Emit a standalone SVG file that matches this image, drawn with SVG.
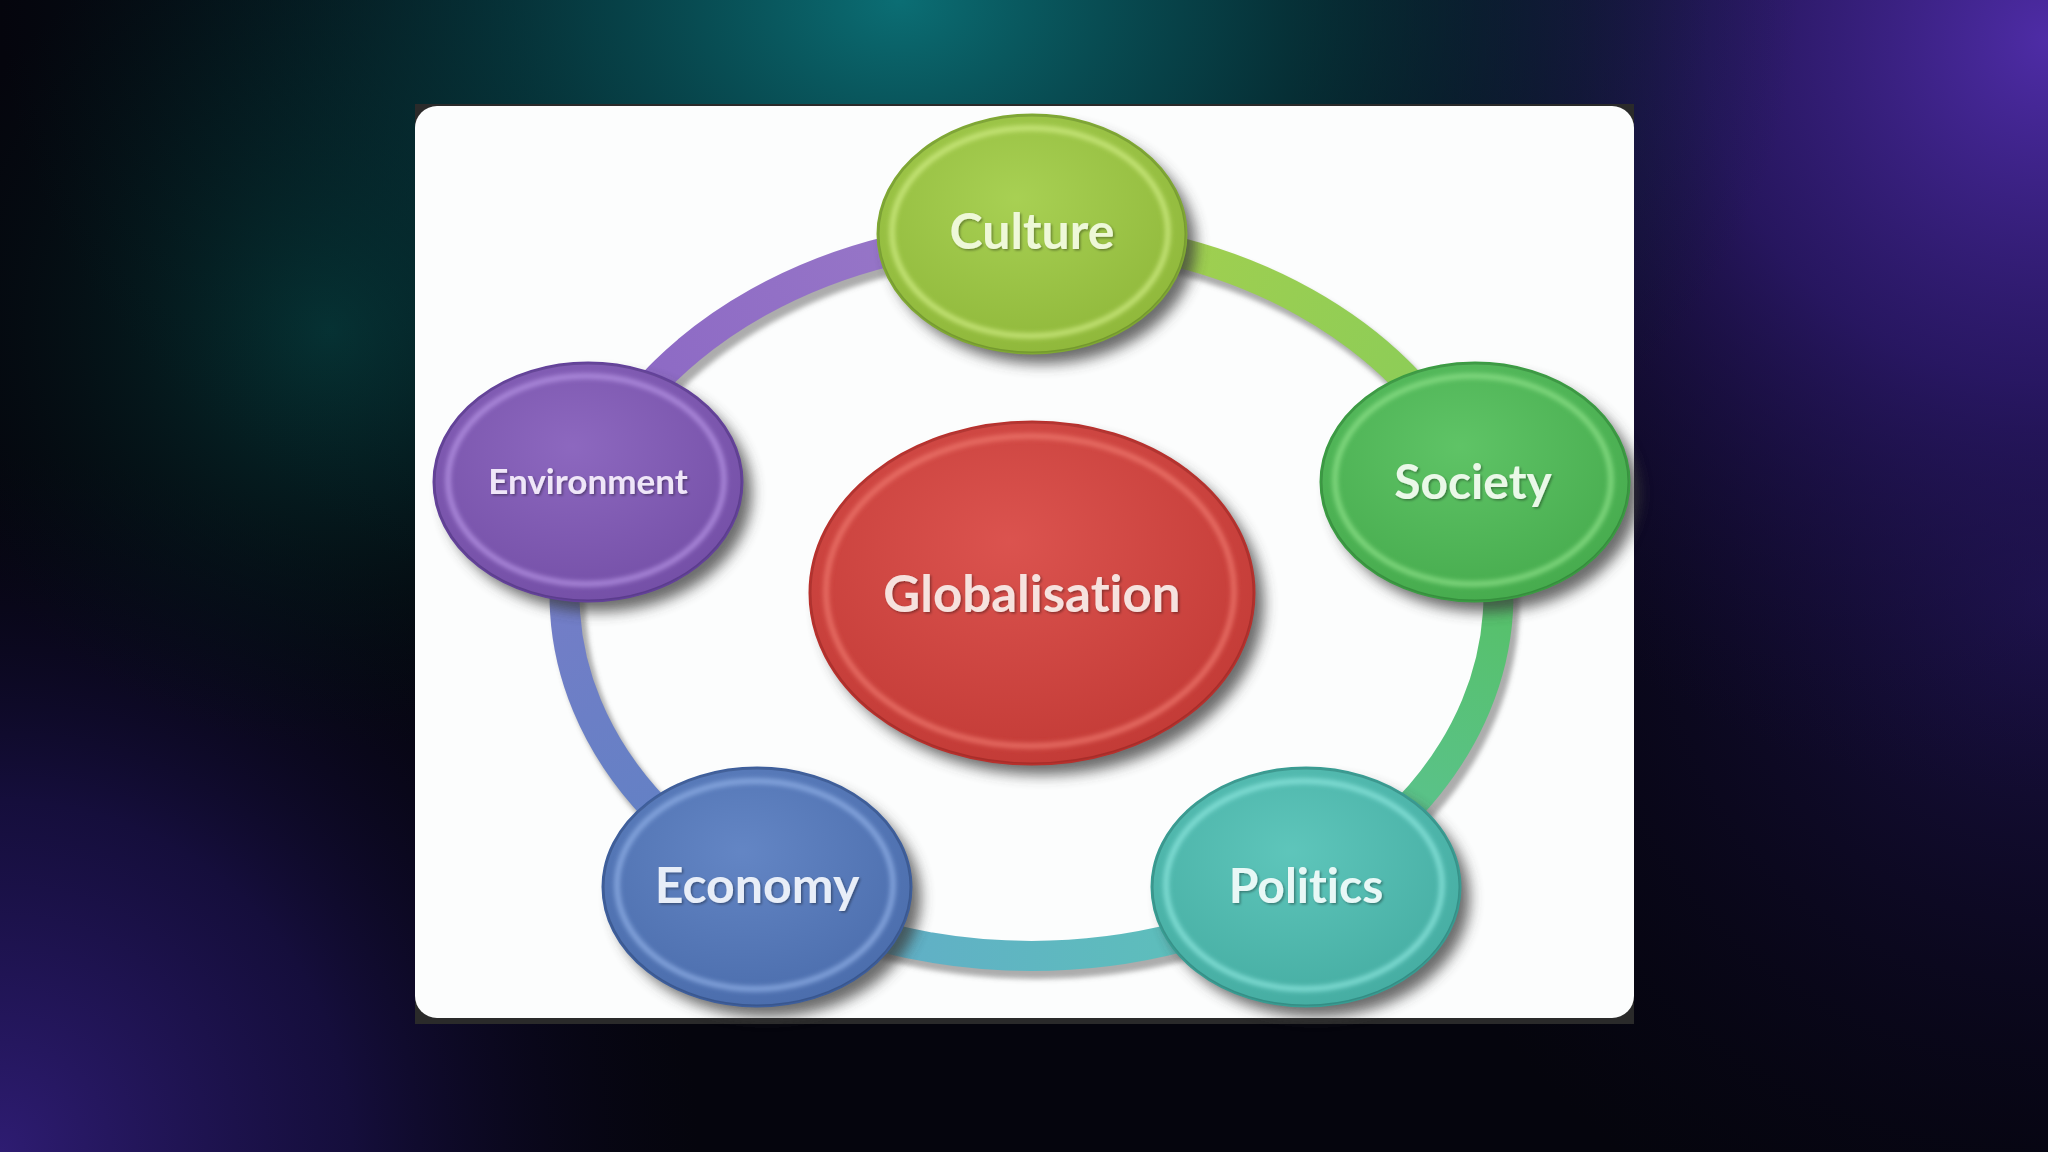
<svg xmlns="http://www.w3.org/2000/svg" width="2048" height="1152" viewBox="0 0 2048 1152">
<defs>
  <radialGradient id="bgTeal" cx="900" cy="0" r="900" gradientUnits="userSpaceOnUse" gradientTransform="translate(900 0) scale(1 0.75) translate(-900 0)">
    <stop offset="0" stop-color="#0b6e74"/>
    <stop offset="0.35" stop-color="#074a50" stop-opacity="0.8"/>
    <stop offset="1" stop-color="#042024" stop-opacity="0"/>
  </radialGradient>
  <radialGradient id="bgTealL" cx="330" cy="330" r="420" gradientUnits="userSpaceOnUse">
    <stop offset="0" stop-color="#063838" stop-opacity="0.9"/>
    <stop offset="1" stop-color="#031818" stop-opacity="0"/>
  </radialGradient>
  <radialGradient id="bgPurpTR" cx="2048" cy="40" r="760" gradientUnits="userSpaceOnUse">
    <stop offset="0" stop-color="#4e2ca6"/>
    <stop offset="0.45" stop-color="#2e1a70" stop-opacity="0.8"/>
    <stop offset="1" stop-color="#140c38" stop-opacity="0"/>
  </radialGradient>
  <radialGradient id="bgPurpBL" cx="0" cy="1152" r="700" gradientUnits="userSpaceOnUse">
    <stop offset="0" stop-color="#2e1c72"/>
    <stop offset="0.5" stop-color="#1c1250" stop-opacity="0.7"/>
    <stop offset="1" stop-color="#0a0620" stop-opacity="0"/>
  </radialGradient>
  <radialGradient id="bgRight" cx="2048" cy="600" r="700" gradientUnits="userSpaceOnUse">
    <stop offset="0" stop-color="#1c1248"/>
    <stop offset="1" stop-color="#0a0620" stop-opacity="0"/>
  </radialGradient>
  <filter id="blurSh" x="-20%" y="-20%" width="140%" height="140%">
    <feGaussianBlur stdDeviation="7"/>
  </filter>
  <filter id="blurSoft" x="-20%" y="-20%" width="140%" height="140%">
    <feGaussianBlur stdDeviation="2.5"/>
  </filter>
  <filter id="txtSh" x="-10%" y="-30%" width="120%" height="160%">
    <feDropShadow dx="1.5" dy="1.5" stdDeviation="1" flood-color="#000" flood-opacity="0.35"/>
  </filter>
  <radialGradient id="gloss" cx="0.45" cy="0.35" r="0.7">
    <stop offset="0" stop-color="#fff" stop-opacity="0.10"/>
    <stop offset="1" stop-color="#000" stop-opacity="0.10"/>
  </radialGradient>
  <linearGradient id="segCS" gradientUnits="userSpaceOnUse" x1="1032" y1="234" x2="1475" y2="482">
    <stop offset="0" stop-color="#a9d04c"/><stop offset="1" stop-color="#86cc5a"/>
  </linearGradient>
  <linearGradient id="segSP" gradientUnits="userSpaceOnUse" x1="1475" y1="482" x2="1306" y2="887">
    <stop offset="0" stop-color="#55c05c"/><stop offset="1" stop-color="#5cc39a"/>
  </linearGradient>
  <linearGradient id="segPE" gradientUnits="userSpaceOnUse" x1="1306" y1="887" x2="757" y2="887">
    <stop offset="0" stop-color="#5cc5b6"/><stop offset="1" stop-color="#62a8cc"/>
  </linearGradient>
  <linearGradient id="segEV" gradientUnits="userSpaceOnUse" x1="757" y1="887" x2="588" y2="482">
    <stop offset="0" stop-color="#5c82c4"/><stop offset="1" stop-color="#7a7cc8"/>
  </linearGradient>
  <linearGradient id="segVC" gradientUnits="userSpaceOnUse" x1="588" y1="482" x2="1032" y2="234">
    <stop offset="0" stop-color="#8a66c4"/><stop offset="1" stop-color="#9a7ac8"/>
  </linearGradient>
  <style>
    .ring{fill:none;stroke-width:30;}
    .ringSh{fill:none;stroke:#6a6a6a;stroke-width:32;opacity:0.55;}
    .shadow{fill:#3a3a3a;opacity:0.75;}
    .rim{fill:none;stroke-width:5;opacity:0.85;}
    .lbl{font-family:Lato,"Liberation Sans",sans-serif;font-weight:bold;text-anchor:middle;font-variant-ligatures:none;font-feature-settings:"liga" 0;}
  </style>
</defs>

<g id="background">
  <rect x="0" y="0" width="2048" height="1152" fill="#05050d"/>
  <rect x="0" y="0" width="2048" height="1152" fill="url(#bgRight)"/>
  <rect x="0" y="0" width="2048" height="1152" fill="url(#bgPurpBL)"/>
  <rect x="0" y="0" width="2048" height="1152" fill="url(#bgTealL)"/>
  <rect x="0" y="0" width="2048" height="1152" fill="url(#bgPurpTR)"/>
  <rect x="0" y="0" width="2048" height="1152" fill="url(#bgTeal)"/>
</g>

<g id="panel">
  <rect x="415" y="104" width="1219" height="920" fill="#2a2a2a"/>
  <rect x="415" y="106" width="1219" height="912" rx="22" fill="#fcfdfd"/>
</g>

<g id="connectors">
  <g filter="url(#blurSoft)" transform="translate(5 7)">
    <path class="ringSh" d="M1032 234 A467 361 0 0 1 1475 482"/>
    <path class="ringSh" d="M1475 482 A467 361 0 0 1 1306 887"/>
    <path class="ringSh" d="M1306 887 A467 361 0 0 1 757 887"/>
    <path class="ringSh" d="M757 887 A467 361 0 0 1 588 482"/>
    <path class="ringSh" d="M588 482 A467 361 0 0 1 1032 234"/>
  </g>
  <path class="ring" stroke="url(#segCS)" d="M1032 234 A467 361 0 0 1 1475 482"/>
  <path class="ring" stroke="url(#segSP)" d="M1475 482 A467 361 0 0 1 1306 887"/>
  <path class="ring" stroke="url(#segPE)" d="M1306 887 A467 361 0 0 1 757 887"/>
  <path class="ring" stroke="url(#segEV)" d="M757 887 A467 361 0 0 1 588 482"/>
  <path class="ring" stroke="url(#segVC)" d="M588 482 A467 361 0 0 1 1032 234"/>
</g>

<g id="node-globalisation">
  <ellipse class="shadow" cx="1042" cy="604" rx="222" ry="171" filter="url(#blurSh)"/>
  <ellipse cx="1032" cy="593" rx="222" ry="171" fill="#d7403b" stroke="#b8302c" stroke-width="3"/>
  <ellipse cx="1032" cy="593" rx="222" ry="171" fill="url(#gloss)"/>
  <ellipse class="rim" cx="1030" cy="591" rx="204" ry="155" stroke="#f07a70" filter="url(#blurSoft)"/>
  <text class="lbl" x="1032" y="612" font-size="51" fill="#f6e2de" filter="url(#txtSh)">Globalisation</text>
</g>

<g id="node-culture">
  <ellipse class="shadow" cx="1042" cy="245" rx="154" ry="119" filter="url(#blurSh)"/>
  <ellipse cx="1032" cy="234" rx="154" ry="119" fill="#9ecb40" stroke="#7fa832" stroke-width="3"/>
  <ellipse cx="1032" cy="234" rx="154" ry="119" fill="url(#gloss)"/>
  <ellipse class="rim" cx="1030" cy="232" rx="138" ry="104" stroke="#d2ee86" filter="url(#blurSoft)"/>
  <text class="lbl" x="1032" y="249" font-size="50" fill="#eef8d8" filter="url(#txtSh)">Culture</text>
</g>

<g id="node-society">
  <ellipse class="shadow" cx="1485" cy="493" rx="154" ry="119" filter="url(#blurSh)"/>
  <ellipse cx="1475" cy="482" rx="154" ry="119" fill="#4dbd55" stroke="#3a9c42" stroke-width="3"/>
  <ellipse cx="1475" cy="482" rx="154" ry="119" fill="url(#gloss)"/>
  <ellipse class="rim" cx="1473" cy="480" rx="138" ry="104" stroke="#8fe28a" filter="url(#blurSoft)"/>
  <text class="lbl" x="1473" y="499" font-size="48" fill="#eaf8e8" filter="url(#txtSh)">Society</text>
</g>

<g id="node-politics">
  <ellipse class="shadow" cx="1316" cy="898" rx="154" ry="119" filter="url(#blurSh)"/>
  <ellipse cx="1306" cy="887" rx="154" ry="119" fill="#4cbfb3" stroke="#389c92" stroke-width="3"/>
  <ellipse cx="1306" cy="887" rx="154" ry="119" fill="url(#gloss)"/>
  <ellipse class="rim" cx="1304" cy="885" rx="138" ry="104" stroke="#8fe8e0" filter="url(#blurSoft)"/>
  <text class="lbl" x="1306" y="903" font-size="48" fill="#e8f8f6" filter="url(#txtSh)">Politics</text>
</g>

<g id="node-economy">
  <ellipse class="shadow" cx="767" cy="898" rx="154" ry="119" filter="url(#blurSh)"/>
  <ellipse cx="757" cy="887" rx="154" ry="119" fill="#5278be" stroke="#3d5e9c" stroke-width="3"/>
  <ellipse cx="757" cy="887" rx="154" ry="119" fill="url(#gloss)"/>
  <ellipse class="rim" cx="755" cy="885" rx="138" ry="104" stroke="#93b2e8" filter="url(#blurSoft)"/>
  <text class="lbl" x="757" y="903" font-size="50" fill="#e8eef8" filter="url(#txtSh)">Economy</text>
</g>

<g id="node-environment">
  <ellipse class="shadow" cx="598" cy="493" rx="154" ry="119" filter="url(#blurSh)"/>
  <ellipse cx="588" cy="482" rx="154" ry="119" fill="#8057b8" stroke="#63419a" stroke-width="3"/>
  <ellipse cx="588" cy="482" rx="154" ry="119" fill="url(#gloss)"/>
  <ellipse class="rim" cx="586" cy="480" rx="138" ry="104" stroke="#b896e6" filter="url(#blurSoft)"/>
  <text class="lbl" x="588" y="494" font-size="35" fill="#efe6f8" filter="url(#txtSh)">Environment</text>
</g>
</svg>
